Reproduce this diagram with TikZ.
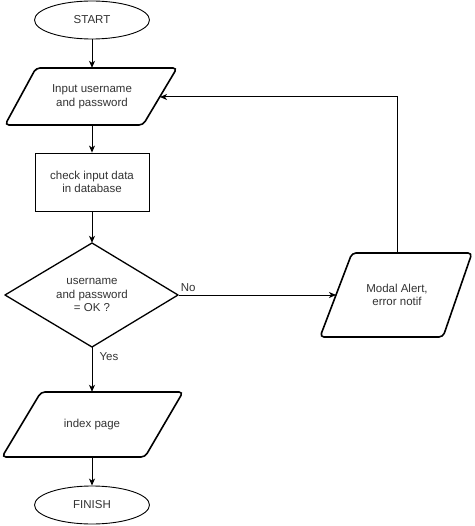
\documentclass[tikz,border=0pt]{standalone}
\usepackage{fontspec}
\setmainfont{Liberation Sans}
\usetikzlibrary{shapes.geometric,arrows.meta}
\definecolor{txt}{HTML}{333333}
\tikzset{
  every node/.style={font=\fontsize{11.5pt}{13.5pt}\selectfont, text=txt, align=center},
  term/.style={ellipse, draw=black, line width=0.9pt, minimum width=115pt, minimum height=38pt, inner sep=0pt},
  ghost/.style={draw=none, inner sep=0pt},
  shapeline/.style={draw=black, line width=1.3pt, line join=round},
  para/.style={draw=black, line width=1.6pt, rounded corners=4pt},
  flow/.style={draw=black, line width=1pt, -{Stealth[length=7pt,width=6pt,inset=2pt]}},
  lbl/.style={inner sep=1pt}
}
\begin{document}
\begin{tikzpicture}[x=1pt,y=-1pt]
\useasboundingbox (0,0) rectangle (474,526);
\fill[white] (0,0) rectangle (474,526);

% START
\node[term] (start) at (92,20) {START};

% Input parallelogram
\draw[para] (36,68) -- (177,68) -- (143,125) -- (5,125) -- cycle;
\node[ghost, minimum width=100pt, minimum height=57pt] (input) at (92,96.5) {Input username\\and password};
\coordinate (inright) at (160,97);

% check rectangle
\node[draw=black, line width=0.8pt, minimum width=114pt, minimum height=58pt, inner sep=0pt] (check) at (92,182) {check input data\\in database};

% decision diamond
\draw[shapeline] (92,243) -- (178,295) -- (92,347) -- (5,295) -- cycle;
\node[ghost, minimum width=173pt, minimum height=104pt] (dec) at (92,295) {username\\and password\\= OK ?};

% Modal alert parallelogram
\draw[para] (352,253) -- (472,253) -- (443,337) -- (320,337) -- cycle;
\node[ghost, minimum width=90pt, minimum height=84pt] (modal) at (397,295) {Modal Alert,\\error notif};
\coordinate (modalleft) at (336,295);

% index page parallelogram
\draw[para] (41,392) -- (183,392) -- (145,457) -- (2,457) -- cycle;
\node[ghost, minimum width=100pt, minimum height=65pt] (index) at (92,424.5) {index page};

% FINISH
\node[term] (finish) at (92,505) {FINISH};

% connectors
\draw[flow] (start.south) -- (input.north);
\draw[flow] (input.south) -- (check.north);
\draw[flow] (check.south) -- (dec.north);
\draw[flow] (dec.east) -- node[lbl, pos=0.06, above, yshift=2pt] (nolbl) {No} (modalleft);
\draw[flow] (dec.south) -- node[lbl, pos=0.2, right, xshift=6pt] (yeslbl) {Yes} (index.north);
\draw[flow] (index.south) -- (finish.north);
\draw[flow] (modal.north) |- (inright);
\end{tikzpicture}
\end{document}
